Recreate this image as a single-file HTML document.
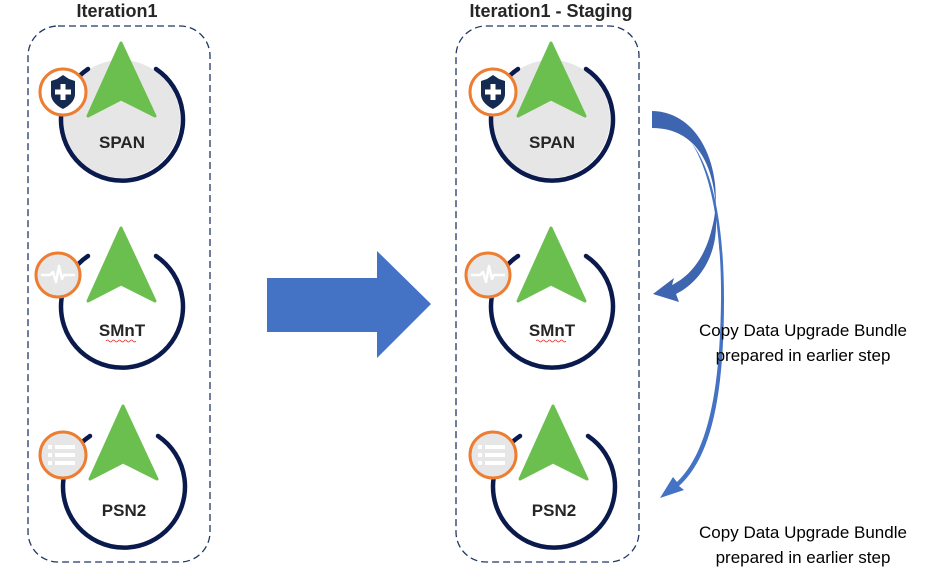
<!DOCTYPE html>
<html><head><meta charset="utf-8"><style>
html,body{margin:0;padding:0;background:#fff;width:925px;height:575px;overflow:hidden}
svg{display:block}
text{font-family:"Liberation Sans",sans-serif}
</style></head><body>
<svg width="925" height="575" viewBox="0 0 925 575" xmlns="http://www.w3.org/2000/svg">
<defs>
<g id="ring">
  <path d="M88,67 A61,61 0 1 0 156,67" fill="none" stroke="#0b1a4d" stroke-width="4.5" stroke-linecap="round"/>
</g>
<g id="tri">
  <polygon points="121,0 155,73 121,56 88,73" fill="#6bbf4e" stroke="#6bbf4e" stroke-width="3" stroke-linejoin="round"/>
</g>
<g id="shield">
  <circle cx="0" cy="0" r="23" fill="#fff" stroke="#ed7d31" stroke-width="3"/>
  <path d="M-12,-11 L-6,-13 L0,-17 L6,-13 L12,-11 L12,2 C12,9 6,14 0,17 C-6,14 -12,9 -12,2 Z" fill="#142a50"/>
  <rect x="-2.5" y="-8" width="5" height="16" fill="#fff"/>
  <rect x="-8" y="-2.5" width="16" height="5" fill="#fff"/>
</g>
<g id="pulse">
  <circle cx="0" cy="0" r="22" fill="#e7e6e6" stroke="#ed7d31" stroke-width="3"/>
  <polyline points="-17,0 -8,0 -5,-3 -2,7 1,-9 4,4 6,0 17,0" fill="none" stroke="#fff" stroke-width="2.5" stroke-linejoin="round"/>
</g>
<g id="list">
  <circle cx="0" cy="0" r="23" fill="#e7e6e6" stroke="#ed7d31" stroke-width="3"/>
  <rect x="-15" y="-10" width="4" height="4" fill="#fff"/><rect x="-8" y="-10" width="20" height="4" fill="#fff"/>
  <rect x="-15" y="-2" width="4" height="4" fill="#fff"/><rect x="-8" y="-2" width="20" height="4" fill="#fff"/>
  <rect x="-15" y="6" width="4" height="4" fill="#fff"/><rect x="-8" y="6" width="20" height="4" fill="#fff"/>
</g>
</defs>

<text x="117" y="17" text-anchor="middle" font-size="18" font-weight="bold" fill="#262626">Iteration1</text>
<text x="551" y="17" text-anchor="middle" font-size="18" font-weight="bold" fill="#262626">Iteration1 - Staging</text>

<rect x="28" y="26" width="182" height="536" rx="30" fill="none" stroke="#1f3864" stroke-width="1.3" stroke-dasharray="7,4"/>
<rect x="456" y="26" width="183" height="536" rx="30" fill="none" stroke="#1f3864" stroke-width="1.3" stroke-dasharray="7,4"/>

<!-- Left column -->
<circle cx="121" cy="119" r="59" fill="#e7e6e6"/>
<g transform="translate(0,2)"><use href="#ring"/></g>
<g transform="translate(0,43)"><use href="#tri"/></g>
<text x="122" y="148" text-anchor="middle" font-size="17" font-weight="bold" fill="#262626">SPAN</text>
<g transform="translate(63,92)"><use href="#shield"/></g>

<g transform="translate(0,189)"><use href="#ring"/></g>
<g transform="translate(0,228)"><use href="#tri"/></g>
<text x="122" y="336" text-anchor="middle" font-size="17" font-weight="bold" fill="#262626">SMnT</text>
<path d="M106,341 q1.5,-2 3,0 t3,0 t3,0 t3,0 t3,0 t3,0 t3,0 t3,0 t3,0 t3,0" fill="none" stroke="#e03030" stroke-width="0.8"/>
<g transform="translate(58,275)"><use href="#pulse"/></g>

<g transform="translate(2,369)"><use href="#ring"/></g>
<g transform="translate(2,406)"><use href="#tri"/></g>
<text x="124" y="516" text-anchor="middle" font-size="17" font-weight="bold" fill="#262626">PSN2</text>
<g transform="translate(63,455)"><use href="#list"/></g>

<!-- Right column -->
<g transform="translate(430,0)">
<circle cx="121" cy="119" r="59" fill="#e7e6e6"/>
<g transform="translate(0,2)"><use href="#ring"/></g>
<g transform="translate(0,43)"><use href="#tri"/></g>
<text x="122" y="148" text-anchor="middle" font-size="17" font-weight="bold" fill="#262626">SPAN</text>
<g transform="translate(63,92)"><use href="#shield"/></g>

<g transform="translate(0,189)"><use href="#ring"/></g>
<g transform="translate(0,228)"><use href="#tri"/></g>
<text x="122" y="336" text-anchor="middle" font-size="17" font-weight="bold" fill="#262626">SMnT</text>
<path d="M106,341 q1.5,-2 3,0 t3,0 t3,0 t3,0 t3,0 t3,0 t3,0 t3,0 t3,0 t3,0" fill="none" stroke="#e03030" stroke-width="0.8"/>
<g transform="translate(58,275)"><use href="#pulse"/></g>

<g transform="translate(2,369)"><use href="#ring"/></g>
<g transform="translate(2,406)"><use href="#tri"/></g>
<text x="124" y="516" text-anchor="middle" font-size="17" font-weight="bold" fill="#262626">PSN2</text>
<g transform="translate(63,455)"><use href="#list"/></g>
</g>

<!-- Big arrow -->
<polygon points="267,278 377,278 377,251 431,304 377,358 377,332 267,332" fill="#4472c4"/>

<!-- Curved arrows -->
<path d="M652,117 C700,118 722,200 721,300 C720,400 705,455 677,482 L673,477 L660,498 L684,490 L679,486 C710,458 724,400 724,300 C724,200 705,124 652,121 Z" fill="#4472c4"/>
<path d="M652,111 C705,112 725,180 712,228 C705,258 690,276 672,285 L674,278 L653,294 L679,302 L676,294 C700,282 716,256 716,225 C718,172 700,128 652,128 Z" fill="#3d65b0"/>

<text x="803" y="336" text-anchor="middle" font-size="17" fill="#000">Copy Data Upgrade Bundle</text>
<text x="803" y="361" text-anchor="middle" font-size="17" fill="#000">prepared in earlier step</text>
<text x="803" y="538" text-anchor="middle" font-size="17" fill="#000">Copy Data Upgrade Bundle</text>
<text x="803" y="563" text-anchor="middle" font-size="17" fill="#000">prepared in earlier step</text>
</svg>
</body></html>
